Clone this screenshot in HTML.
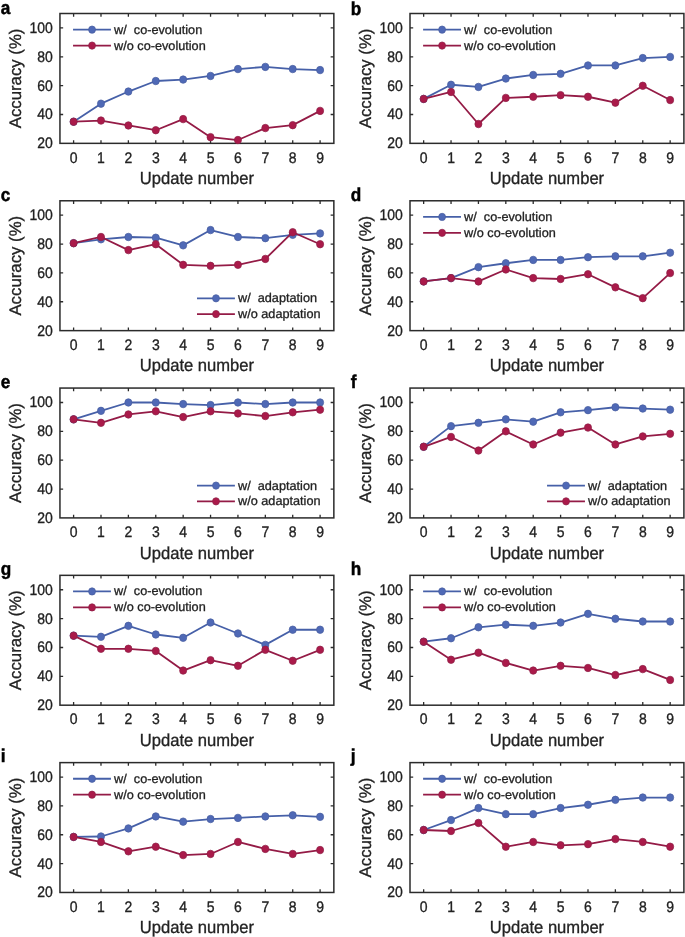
<!DOCTYPE html>
<html><head><meta charset="utf-8"><style>
html,body{margin:0;padding:0;background:#fff;}
body{width:685px;height:937px;overflow:hidden;}
svg{display:block;font-family:"Liberation Sans", sans-serif;text-rendering:geometricPrecision;will-change:transform;}
</style></head><body>
<svg width="685" height="937" viewBox="0 0 685 937">
<rect width="685" height="937" fill="#fff"/>
<path d="M73.60 143.35V140.15M73.60 13.50V16.70M100.99 143.35V140.15M100.99 13.50V16.70M128.38 143.35V140.15M128.38 13.50V16.70M155.77 143.35V140.15M155.77 13.50V16.70M183.16 143.35V140.15M183.16 13.50V16.70M210.55 143.35V140.15M210.55 13.50V16.70M237.94 143.35V140.15M237.94 13.50V16.70M265.33 143.35V140.15M265.33 13.50V16.70M292.72 143.35V140.15M292.72 13.50V16.70M320.11 143.35V140.15M320.11 13.50V16.70M59.95 114.49H63.15M333.85 114.49H330.65M59.95 85.64H63.15M333.85 85.64H330.65M59.95 56.78H63.15M333.85 56.78H330.65M59.95 27.93H63.15M333.85 27.93H330.65" stroke="#2b2b2b" stroke-width="1.3" fill="none"/>
<rect x="59.95" y="13.50" width="273.90" height="129.85" stroke="#2b2b2b" stroke-width="1.5" fill="none"/>
<text transform="translate(52.80 148.35) scale(1 1.09)" font-size="14" text-anchor="end" stroke="#222" stroke-width="0.3" fill="#222">20</text>
<text transform="translate(52.80 119.49) scale(1 1.09)" font-size="14" text-anchor="end" stroke="#222" stroke-width="0.3" fill="#222">40</text>
<text transform="translate(52.80 90.64) scale(1 1.09)" font-size="14" text-anchor="end" stroke="#222" stroke-width="0.3" fill="#222">60</text>
<text transform="translate(52.80 61.78) scale(1 1.09)" font-size="14" text-anchor="end" stroke="#222" stroke-width="0.3" fill="#222">80</text>
<text transform="translate(52.80 32.93) scale(1 1.09)" font-size="14" text-anchor="end" stroke="#222" stroke-width="0.3" fill="#222">100</text>
<text transform="translate(73.60 162.55) scale(1 1.09)" font-size="14" text-anchor="middle" stroke="#222" stroke-width="0.3" fill="#222">0</text>
<text transform="translate(100.99 162.55) scale(1 1.09)" font-size="14" text-anchor="middle" stroke="#222" stroke-width="0.3" fill="#222">1</text>
<text transform="translate(128.38 162.55) scale(1 1.09)" font-size="14" text-anchor="middle" stroke="#222" stroke-width="0.3" fill="#222">2</text>
<text transform="translate(155.77 162.55) scale(1 1.09)" font-size="14" text-anchor="middle" stroke="#222" stroke-width="0.3" fill="#222">3</text>
<text transform="translate(183.16 162.55) scale(1 1.09)" font-size="14" text-anchor="middle" stroke="#222" stroke-width="0.3" fill="#222">4</text>
<text transform="translate(210.55 162.55) scale(1 1.09)" font-size="14" text-anchor="middle" stroke="#222" stroke-width="0.3" fill="#222">5</text>
<text transform="translate(237.94 162.55) scale(1 1.09)" font-size="14" text-anchor="middle" stroke="#222" stroke-width="0.3" fill="#222">6</text>
<text transform="translate(265.33 162.55) scale(1 1.09)" font-size="14" text-anchor="middle" stroke="#222" stroke-width="0.3" fill="#222">7</text>
<text transform="translate(292.72 162.55) scale(1 1.09)" font-size="14" text-anchor="middle" stroke="#222" stroke-width="0.3" fill="#222">8</text>
<text transform="translate(320.11 162.55) scale(1 1.09)" font-size="14" text-anchor="middle" stroke="#222" stroke-width="0.3" fill="#222">9</text>
<text transform="translate(196.90 184.15) scale(1 1.05)" font-size="16.6" text-anchor="middle" stroke="#222" stroke-width="0.3" fill="#222">Update number</text>
<text transform="translate(20.95 78.42) rotate(-90)" font-size="16.8" text-anchor="middle" fill="#222" stroke="#222" stroke-width="0.3">Accuracy (%)</text>
<text transform="translate(0.75 14.30) scale(1 1.08)" font-size="17.2" font-weight="bold" stroke="#000" stroke-width="0.45" fill="#000">a</text>
<polyline points="73.60,121.71 100.99,103.67 128.38,91.55 155.77,81.02 183.16,79.58 210.55,75.97 237.94,69.05 265.33,66.88 292.72,69.05 320.11,70.06" stroke="#4660a8" stroke-width="1.8" fill="none" stroke-linejoin="round"/>
<ellipse cx="73.60" cy="121.71" rx="3.55" ry="3.75" fill="#4f69b6" stroke="#475d9f" stroke-width="0.7"/>
<ellipse cx="100.99" cy="103.67" rx="3.55" ry="3.75" fill="#4f69b6" stroke="#475d9f" stroke-width="0.7"/>
<ellipse cx="128.38" cy="91.55" rx="3.55" ry="3.75" fill="#4f69b6" stroke="#475d9f" stroke-width="0.7"/>
<ellipse cx="155.77" cy="81.02" rx="3.55" ry="3.75" fill="#4f69b6" stroke="#475d9f" stroke-width="0.7"/>
<ellipse cx="183.16" cy="79.58" rx="3.55" ry="3.75" fill="#4f69b6" stroke="#475d9f" stroke-width="0.7"/>
<ellipse cx="210.55" cy="75.97" rx="3.55" ry="3.75" fill="#4f69b6" stroke="#475d9f" stroke-width="0.7"/>
<ellipse cx="237.94" cy="69.05" rx="3.55" ry="3.75" fill="#4f69b6" stroke="#475d9f" stroke-width="0.7"/>
<ellipse cx="265.33" cy="66.88" rx="3.55" ry="3.75" fill="#4f69b6" stroke="#475d9f" stroke-width="0.7"/>
<ellipse cx="292.72" cy="69.05" rx="3.55" ry="3.75" fill="#4f69b6" stroke="#475d9f" stroke-width="0.7"/>
<ellipse cx="320.11" cy="70.06" rx="3.55" ry="3.75" fill="#4f69b6" stroke="#475d9f" stroke-width="0.7"/>
<polyline points="73.60,121.71 100.99,120.55 128.38,125.46 155.77,130.22 183.16,119.11 210.55,137.15 237.94,140.03 265.33,128.06 292.72,125.17 320.11,110.89" stroke="#941b46" stroke-width="1.8" fill="none" stroke-linejoin="round"/>
<ellipse cx="73.60" cy="121.71" rx="3.55" ry="3.75" fill="#aa1a4a" stroke="#8e2046" stroke-width="0.7"/>
<ellipse cx="100.99" cy="120.55" rx="3.55" ry="3.75" fill="#aa1a4a" stroke="#8e2046" stroke-width="0.7"/>
<ellipse cx="128.38" cy="125.46" rx="3.55" ry="3.75" fill="#aa1a4a" stroke="#8e2046" stroke-width="0.7"/>
<ellipse cx="155.77" cy="130.22" rx="3.55" ry="3.75" fill="#aa1a4a" stroke="#8e2046" stroke-width="0.7"/>
<ellipse cx="183.16" cy="119.11" rx="3.55" ry="3.75" fill="#aa1a4a" stroke="#8e2046" stroke-width="0.7"/>
<ellipse cx="210.55" cy="137.15" rx="3.55" ry="3.75" fill="#aa1a4a" stroke="#8e2046" stroke-width="0.7"/>
<ellipse cx="237.94" cy="140.03" rx="3.55" ry="3.75" fill="#aa1a4a" stroke="#8e2046" stroke-width="0.7"/>
<ellipse cx="265.33" cy="128.06" rx="3.55" ry="3.75" fill="#aa1a4a" stroke="#8e2046" stroke-width="0.7"/>
<ellipse cx="292.72" cy="125.17" rx="3.55" ry="3.75" fill="#aa1a4a" stroke="#8e2046" stroke-width="0.7"/>
<ellipse cx="320.11" cy="110.89" rx="3.55" ry="3.75" fill="#aa1a4a" stroke="#8e2046" stroke-width="0.7"/>
<path d="M73.05 29.63H110.95" stroke="#4660a8" stroke-width="1.8"/>
<ellipse cx="92.05" cy="29.63" rx="3.45" ry="3.65" fill="#4f69b6" stroke="#475d9f" stroke-width="0.7"/>
<text transform="translate(114.05 33.63) scale(1 1.0)" font-size="12.7" stroke="#222" stroke-width="0.3" fill="#222">w/&#160;&#160;co-evolution</text>
<path d="M73.05 45.58H110.95" stroke="#941b46" stroke-width="1.8"/>
<ellipse cx="92.05" cy="45.58" rx="3.45" ry="3.65" fill="#aa1a4a" stroke="#8e2046" stroke-width="0.7"/>
<text transform="translate(114.05 49.58) scale(1 1.0)" font-size="12.7" stroke="#222" stroke-width="0.3" fill="#222">w/o co-evolution</text>
<path d="M423.65 143.35V140.15M423.65 13.50V16.70M451.04 143.35V140.15M451.04 13.50V16.70M478.43 143.35V140.15M478.43 13.50V16.70M505.82 143.35V140.15M505.82 13.50V16.70M533.21 143.35V140.15M533.21 13.50V16.70M560.60 143.35V140.15M560.60 13.50V16.70M587.99 143.35V140.15M587.99 13.50V16.70M615.38 143.35V140.15M615.38 13.50V16.70M642.77 143.35V140.15M642.77 13.50V16.70M670.16 143.35V140.15M670.16 13.50V16.70M410.00 114.49H413.20M683.90 114.49H680.70M410.00 85.64H413.20M683.90 85.64H680.70M410.00 56.78H413.20M683.90 56.78H680.70M410.00 27.93H413.20M683.90 27.93H680.70" stroke="#2b2b2b" stroke-width="1.3" fill="none"/>
<rect x="410.00" y="13.50" width="273.90" height="129.85" stroke="#2b2b2b" stroke-width="1.5" fill="none"/>
<text transform="translate(402.85 148.35) scale(1 1.09)" font-size="14" text-anchor="end" stroke="#222" stroke-width="0.3" fill="#222">20</text>
<text transform="translate(402.85 119.49) scale(1 1.09)" font-size="14" text-anchor="end" stroke="#222" stroke-width="0.3" fill="#222">40</text>
<text transform="translate(402.85 90.64) scale(1 1.09)" font-size="14" text-anchor="end" stroke="#222" stroke-width="0.3" fill="#222">60</text>
<text transform="translate(402.85 61.78) scale(1 1.09)" font-size="14" text-anchor="end" stroke="#222" stroke-width="0.3" fill="#222">80</text>
<text transform="translate(402.85 32.93) scale(1 1.09)" font-size="14" text-anchor="end" stroke="#222" stroke-width="0.3" fill="#222">100</text>
<text transform="translate(423.65 162.55) scale(1 1.09)" font-size="14" text-anchor="middle" stroke="#222" stroke-width="0.3" fill="#222">0</text>
<text transform="translate(451.04 162.55) scale(1 1.09)" font-size="14" text-anchor="middle" stroke="#222" stroke-width="0.3" fill="#222">1</text>
<text transform="translate(478.43 162.55) scale(1 1.09)" font-size="14" text-anchor="middle" stroke="#222" stroke-width="0.3" fill="#222">2</text>
<text transform="translate(505.82 162.55) scale(1 1.09)" font-size="14" text-anchor="middle" stroke="#222" stroke-width="0.3" fill="#222">3</text>
<text transform="translate(533.21 162.55) scale(1 1.09)" font-size="14" text-anchor="middle" stroke="#222" stroke-width="0.3" fill="#222">4</text>
<text transform="translate(560.60 162.55) scale(1 1.09)" font-size="14" text-anchor="middle" stroke="#222" stroke-width="0.3" fill="#222">5</text>
<text transform="translate(587.99 162.55) scale(1 1.09)" font-size="14" text-anchor="middle" stroke="#222" stroke-width="0.3" fill="#222">6</text>
<text transform="translate(615.38 162.55) scale(1 1.09)" font-size="14" text-anchor="middle" stroke="#222" stroke-width="0.3" fill="#222">7</text>
<text transform="translate(642.77 162.55) scale(1 1.09)" font-size="14" text-anchor="middle" stroke="#222" stroke-width="0.3" fill="#222">8</text>
<text transform="translate(670.16 162.55) scale(1 1.09)" font-size="14" text-anchor="middle" stroke="#222" stroke-width="0.3" fill="#222">9</text>
<text transform="translate(546.95 184.15) scale(1 1.05)" font-size="16.6" text-anchor="middle" stroke="#222" stroke-width="0.3" fill="#222">Update number</text>
<text transform="translate(371.00 78.42) rotate(-90)" font-size="16.8" text-anchor="middle" fill="#222" stroke="#222" stroke-width="0.3">Accuracy (%)</text>
<text transform="translate(350.80 14.80) scale(1 1.08)" font-size="17.2" font-weight="bold" stroke="#000" stroke-width="0.45" fill="#000">b</text>
<polyline points="423.65,98.91 451.04,84.77 478.43,86.94 505.82,78.57 533.21,74.96 560.60,73.81 587.99,65.44 615.38,65.44 642.77,58.08 670.16,56.93" stroke="#4660a8" stroke-width="1.8" fill="none" stroke-linejoin="round"/>
<ellipse cx="423.65" cy="98.91" rx="3.55" ry="3.75" fill="#4f69b6" stroke="#475d9f" stroke-width="0.7"/>
<ellipse cx="451.04" cy="84.77" rx="3.55" ry="3.75" fill="#4f69b6" stroke="#475d9f" stroke-width="0.7"/>
<ellipse cx="478.43" cy="86.94" rx="3.55" ry="3.75" fill="#4f69b6" stroke="#475d9f" stroke-width="0.7"/>
<ellipse cx="505.82" cy="78.57" rx="3.55" ry="3.75" fill="#4f69b6" stroke="#475d9f" stroke-width="0.7"/>
<ellipse cx="533.21" cy="74.96" rx="3.55" ry="3.75" fill="#4f69b6" stroke="#475d9f" stroke-width="0.7"/>
<ellipse cx="560.60" cy="73.81" rx="3.55" ry="3.75" fill="#4f69b6" stroke="#475d9f" stroke-width="0.7"/>
<ellipse cx="587.99" cy="65.44" rx="3.55" ry="3.75" fill="#4f69b6" stroke="#475d9f" stroke-width="0.7"/>
<ellipse cx="615.38" cy="65.44" rx="3.55" ry="3.75" fill="#4f69b6" stroke="#475d9f" stroke-width="0.7"/>
<ellipse cx="642.77" cy="58.08" rx="3.55" ry="3.75" fill="#4f69b6" stroke="#475d9f" stroke-width="0.7"/>
<ellipse cx="670.16" cy="56.93" rx="3.55" ry="3.75" fill="#4f69b6" stroke="#475d9f" stroke-width="0.7"/>
<polyline points="423.65,98.91 451.04,91.99 478.43,124.02 505.82,97.90 533.21,96.75 560.60,95.16 587.99,96.75 615.38,102.66 642.77,85.78 670.16,100.07" stroke="#941b46" stroke-width="1.8" fill="none" stroke-linejoin="round"/>
<ellipse cx="423.65" cy="98.91" rx="3.55" ry="3.75" fill="#aa1a4a" stroke="#8e2046" stroke-width="0.7"/>
<ellipse cx="451.04" cy="91.99" rx="3.55" ry="3.75" fill="#aa1a4a" stroke="#8e2046" stroke-width="0.7"/>
<ellipse cx="478.43" cy="124.02" rx="3.55" ry="3.75" fill="#aa1a4a" stroke="#8e2046" stroke-width="0.7"/>
<ellipse cx="505.82" cy="97.90" rx="3.55" ry="3.75" fill="#aa1a4a" stroke="#8e2046" stroke-width="0.7"/>
<ellipse cx="533.21" cy="96.75" rx="3.55" ry="3.75" fill="#aa1a4a" stroke="#8e2046" stroke-width="0.7"/>
<ellipse cx="560.60" cy="95.16" rx="3.55" ry="3.75" fill="#aa1a4a" stroke="#8e2046" stroke-width="0.7"/>
<ellipse cx="587.99" cy="96.75" rx="3.55" ry="3.75" fill="#aa1a4a" stroke="#8e2046" stroke-width="0.7"/>
<ellipse cx="615.38" cy="102.66" rx="3.55" ry="3.75" fill="#aa1a4a" stroke="#8e2046" stroke-width="0.7"/>
<ellipse cx="642.77" cy="85.78" rx="3.55" ry="3.75" fill="#aa1a4a" stroke="#8e2046" stroke-width="0.7"/>
<ellipse cx="670.16" cy="100.07" rx="3.55" ry="3.75" fill="#aa1a4a" stroke="#8e2046" stroke-width="0.7"/>
<path d="M423.10 29.63H461.00" stroke="#4660a8" stroke-width="1.8"/>
<ellipse cx="442.10" cy="29.63" rx="3.45" ry="3.65" fill="#4f69b6" stroke="#475d9f" stroke-width="0.7"/>
<text transform="translate(464.10 33.63) scale(1 1.0)" font-size="12.7" stroke="#222" stroke-width="0.3" fill="#222">w/&#160;&#160;co-evolution</text>
<path d="M423.10 45.58H461.00" stroke="#941b46" stroke-width="1.8"/>
<ellipse cx="442.10" cy="45.58" rx="3.45" ry="3.65" fill="#aa1a4a" stroke="#8e2046" stroke-width="0.7"/>
<text transform="translate(464.10 49.58) scale(1 1.0)" font-size="12.7" stroke="#222" stroke-width="0.3" fill="#222">w/o co-evolution</text>
<path d="M73.60 330.63V327.43M73.60 200.78V203.98M100.99 330.63V327.43M100.99 200.78V203.98M128.38 330.63V327.43M128.38 200.78V203.98M155.77 330.63V327.43M155.77 200.78V203.98M183.16 330.63V327.43M183.16 200.78V203.98M210.55 330.63V327.43M210.55 200.78V203.98M237.94 330.63V327.43M237.94 200.78V203.98M265.33 330.63V327.43M265.33 200.78V203.98M292.72 330.63V327.43M292.72 200.78V203.98M320.11 330.63V327.43M320.11 200.78V203.98M59.95 301.77H63.15M333.85 301.77H330.65M59.95 272.92H63.15M333.85 272.92H330.65M59.95 244.06H63.15M333.85 244.06H330.65M59.95 215.21H63.15M333.85 215.21H330.65" stroke="#2b2b2b" stroke-width="1.3" fill="none"/>
<rect x="59.95" y="200.78" width="273.90" height="129.85" stroke="#2b2b2b" stroke-width="1.5" fill="none"/>
<text transform="translate(52.80 335.63) scale(1 1.09)" font-size="14" text-anchor="end" stroke="#222" stroke-width="0.3" fill="#222">20</text>
<text transform="translate(52.80 306.77) scale(1 1.09)" font-size="14" text-anchor="end" stroke="#222" stroke-width="0.3" fill="#222">40</text>
<text transform="translate(52.80 277.92) scale(1 1.09)" font-size="14" text-anchor="end" stroke="#222" stroke-width="0.3" fill="#222">60</text>
<text transform="translate(52.80 249.06) scale(1 1.09)" font-size="14" text-anchor="end" stroke="#222" stroke-width="0.3" fill="#222">80</text>
<text transform="translate(52.80 220.21) scale(1 1.09)" font-size="14" text-anchor="end" stroke="#222" stroke-width="0.3" fill="#222">100</text>
<text transform="translate(73.60 349.83) scale(1 1.09)" font-size="14" text-anchor="middle" stroke="#222" stroke-width="0.3" fill="#222">0</text>
<text transform="translate(100.99 349.83) scale(1 1.09)" font-size="14" text-anchor="middle" stroke="#222" stroke-width="0.3" fill="#222">1</text>
<text transform="translate(128.38 349.83) scale(1 1.09)" font-size="14" text-anchor="middle" stroke="#222" stroke-width="0.3" fill="#222">2</text>
<text transform="translate(155.77 349.83) scale(1 1.09)" font-size="14" text-anchor="middle" stroke="#222" stroke-width="0.3" fill="#222">3</text>
<text transform="translate(183.16 349.83) scale(1 1.09)" font-size="14" text-anchor="middle" stroke="#222" stroke-width="0.3" fill="#222">4</text>
<text transform="translate(210.55 349.83) scale(1 1.09)" font-size="14" text-anchor="middle" stroke="#222" stroke-width="0.3" fill="#222">5</text>
<text transform="translate(237.94 349.83) scale(1 1.09)" font-size="14" text-anchor="middle" stroke="#222" stroke-width="0.3" fill="#222">6</text>
<text transform="translate(265.33 349.83) scale(1 1.09)" font-size="14" text-anchor="middle" stroke="#222" stroke-width="0.3" fill="#222">7</text>
<text transform="translate(292.72 349.83) scale(1 1.09)" font-size="14" text-anchor="middle" stroke="#222" stroke-width="0.3" fill="#222">8</text>
<text transform="translate(320.11 349.83) scale(1 1.09)" font-size="14" text-anchor="middle" stroke="#222" stroke-width="0.3" fill="#222">9</text>
<text transform="translate(196.90 371.43) scale(1 1.05)" font-size="16.6" text-anchor="middle" stroke="#222" stroke-width="0.3" fill="#222">Update number</text>
<text transform="translate(20.95 265.70) rotate(-90)" font-size="16.8" text-anchor="middle" fill="#222" stroke="#222" stroke-width="0.3">Accuracy (%)</text>
<text transform="translate(0.75 201.33) scale(1 1.08)" font-size="17.2" font-weight="bold" stroke="#000" stroke-width="0.45" fill="#000">c</text>
<polyline points="73.60,243.20 100.99,239.30 128.38,236.99 155.77,237.72 183.16,245.36 210.55,230.07 237.94,236.99 265.33,238.15 292.72,234.83 320.11,233.39" stroke="#4660a8" stroke-width="1.8" fill="none" stroke-linejoin="round"/>
<ellipse cx="73.60" cy="243.20" rx="3.55" ry="3.75" fill="#4f69b6" stroke="#475d9f" stroke-width="0.7"/>
<ellipse cx="100.99" cy="239.30" rx="3.55" ry="3.75" fill="#4f69b6" stroke="#475d9f" stroke-width="0.7"/>
<ellipse cx="128.38" cy="236.99" rx="3.55" ry="3.75" fill="#4f69b6" stroke="#475d9f" stroke-width="0.7"/>
<ellipse cx="155.77" cy="237.72" rx="3.55" ry="3.75" fill="#4f69b6" stroke="#475d9f" stroke-width="0.7"/>
<ellipse cx="183.16" cy="245.36" rx="3.55" ry="3.75" fill="#4f69b6" stroke="#475d9f" stroke-width="0.7"/>
<ellipse cx="210.55" cy="230.07" rx="3.55" ry="3.75" fill="#4f69b6" stroke="#475d9f" stroke-width="0.7"/>
<ellipse cx="237.94" cy="236.99" rx="3.55" ry="3.75" fill="#4f69b6" stroke="#475d9f" stroke-width="0.7"/>
<ellipse cx="265.33" cy="238.15" rx="3.55" ry="3.75" fill="#4f69b6" stroke="#475d9f" stroke-width="0.7"/>
<ellipse cx="292.72" cy="234.83" rx="3.55" ry="3.75" fill="#4f69b6" stroke="#475d9f" stroke-width="0.7"/>
<ellipse cx="320.11" cy="233.39" rx="3.55" ry="3.75" fill="#4f69b6" stroke="#475d9f" stroke-width="0.7"/>
<polyline points="73.60,243.20 100.99,236.99 128.38,250.12 155.77,244.21 183.16,264.84 210.55,265.85 237.94,264.84 265.33,258.92 292.72,232.23 320.11,244.21" stroke="#941b46" stroke-width="1.8" fill="none" stroke-linejoin="round"/>
<ellipse cx="73.60" cy="243.20" rx="3.55" ry="3.75" fill="#aa1a4a" stroke="#8e2046" stroke-width="0.7"/>
<ellipse cx="100.99" cy="236.99" rx="3.55" ry="3.75" fill="#aa1a4a" stroke="#8e2046" stroke-width="0.7"/>
<ellipse cx="128.38" cy="250.12" rx="3.55" ry="3.75" fill="#aa1a4a" stroke="#8e2046" stroke-width="0.7"/>
<ellipse cx="155.77" cy="244.21" rx="3.55" ry="3.75" fill="#aa1a4a" stroke="#8e2046" stroke-width="0.7"/>
<ellipse cx="183.16" cy="264.84" rx="3.55" ry="3.75" fill="#aa1a4a" stroke="#8e2046" stroke-width="0.7"/>
<ellipse cx="210.55" cy="265.85" rx="3.55" ry="3.75" fill="#aa1a4a" stroke="#8e2046" stroke-width="0.7"/>
<ellipse cx="237.94" cy="264.84" rx="3.55" ry="3.75" fill="#aa1a4a" stroke="#8e2046" stroke-width="0.7"/>
<ellipse cx="265.33" cy="258.92" rx="3.55" ry="3.75" fill="#aa1a4a" stroke="#8e2046" stroke-width="0.7"/>
<ellipse cx="292.72" cy="232.23" rx="3.55" ry="3.75" fill="#aa1a4a" stroke="#8e2046" stroke-width="0.7"/>
<ellipse cx="320.11" cy="244.21" rx="3.55" ry="3.75" fill="#aa1a4a" stroke="#8e2046" stroke-width="0.7"/>
<path d="M197.00 298.31H234.90" stroke="#4660a8" stroke-width="1.8"/>
<ellipse cx="216.00" cy="298.31" rx="3.45" ry="3.65" fill="#4f69b6" stroke="#475d9f" stroke-width="0.7"/>
<text transform="translate(238.00 302.31) scale(1 1.0)" font-size="12.7" stroke="#222" stroke-width="0.3" fill="#222">w/&#160;&#160;adaptation</text>
<path d="M197.00 314.08H234.90" stroke="#941b46" stroke-width="1.8"/>
<ellipse cx="216.00" cy="314.08" rx="3.45" ry="3.65" fill="#aa1a4a" stroke="#8e2046" stroke-width="0.7"/>
<text transform="translate(238.00 318.08) scale(1 1.0)" font-size="12.7" stroke="#222" stroke-width="0.3" fill="#222">w/o adaptation</text>
<path d="M423.65 330.63V327.43M423.65 200.78V203.98M451.04 330.63V327.43M451.04 200.78V203.98M478.43 330.63V327.43M478.43 200.78V203.98M505.82 330.63V327.43M505.82 200.78V203.98M533.21 330.63V327.43M533.21 200.78V203.98M560.60 330.63V327.43M560.60 200.78V203.98M587.99 330.63V327.43M587.99 200.78V203.98M615.38 330.63V327.43M615.38 200.78V203.98M642.77 330.63V327.43M642.77 200.78V203.98M670.16 330.63V327.43M670.16 200.78V203.98M410.00 301.77H413.20M683.90 301.77H680.70M410.00 272.92H413.20M683.90 272.92H680.70M410.00 244.06H413.20M683.90 244.06H680.70M410.00 215.21H413.20M683.90 215.21H680.70" stroke="#2b2b2b" stroke-width="1.3" fill="none"/>
<rect x="410.00" y="200.78" width="273.90" height="129.85" stroke="#2b2b2b" stroke-width="1.5" fill="none"/>
<text transform="translate(402.85 335.63) scale(1 1.09)" font-size="14" text-anchor="end" stroke="#222" stroke-width="0.3" fill="#222">20</text>
<text transform="translate(402.85 306.77) scale(1 1.09)" font-size="14" text-anchor="end" stroke="#222" stroke-width="0.3" fill="#222">40</text>
<text transform="translate(402.85 277.92) scale(1 1.09)" font-size="14" text-anchor="end" stroke="#222" stroke-width="0.3" fill="#222">60</text>
<text transform="translate(402.85 249.06) scale(1 1.09)" font-size="14" text-anchor="end" stroke="#222" stroke-width="0.3" fill="#222">80</text>
<text transform="translate(402.85 220.21) scale(1 1.09)" font-size="14" text-anchor="end" stroke="#222" stroke-width="0.3" fill="#222">100</text>
<text transform="translate(423.65 349.83) scale(1 1.09)" font-size="14" text-anchor="middle" stroke="#222" stroke-width="0.3" fill="#222">0</text>
<text transform="translate(451.04 349.83) scale(1 1.09)" font-size="14" text-anchor="middle" stroke="#222" stroke-width="0.3" fill="#222">1</text>
<text transform="translate(478.43 349.83) scale(1 1.09)" font-size="14" text-anchor="middle" stroke="#222" stroke-width="0.3" fill="#222">2</text>
<text transform="translate(505.82 349.83) scale(1 1.09)" font-size="14" text-anchor="middle" stroke="#222" stroke-width="0.3" fill="#222">3</text>
<text transform="translate(533.21 349.83) scale(1 1.09)" font-size="14" text-anchor="middle" stroke="#222" stroke-width="0.3" fill="#222">4</text>
<text transform="translate(560.60 349.83) scale(1 1.09)" font-size="14" text-anchor="middle" stroke="#222" stroke-width="0.3" fill="#222">5</text>
<text transform="translate(587.99 349.83) scale(1 1.09)" font-size="14" text-anchor="middle" stroke="#222" stroke-width="0.3" fill="#222">6</text>
<text transform="translate(615.38 349.83) scale(1 1.09)" font-size="14" text-anchor="middle" stroke="#222" stroke-width="0.3" fill="#222">7</text>
<text transform="translate(642.77 349.83) scale(1 1.09)" font-size="14" text-anchor="middle" stroke="#222" stroke-width="0.3" fill="#222">8</text>
<text transform="translate(670.16 349.83) scale(1 1.09)" font-size="14" text-anchor="middle" stroke="#222" stroke-width="0.3" fill="#222">9</text>
<text transform="translate(546.95 371.43) scale(1 1.05)" font-size="16.6" text-anchor="middle" stroke="#222" stroke-width="0.3" fill="#222">Update number</text>
<text transform="translate(371.00 265.70) rotate(-90)" font-size="16.8" text-anchor="middle" fill="#222" stroke="#222" stroke-width="0.3">Accuracy (%)</text>
<text transform="translate(350.80 200.98) scale(1 1.08)" font-size="17.2" font-weight="bold" stroke="#000" stroke-width="0.45" fill="#000">d</text>
<polyline points="423.65,281.43 451.04,278.11 478.43,267.15 505.82,263.25 533.21,259.93 560.60,259.93 587.99,257.19 615.38,256.33 642.77,256.33 670.16,252.72" stroke="#4660a8" stroke-width="1.8" fill="none" stroke-linejoin="round"/>
<ellipse cx="423.65" cy="281.43" rx="3.55" ry="3.75" fill="#4f69b6" stroke="#475d9f" stroke-width="0.7"/>
<ellipse cx="451.04" cy="278.11" rx="3.55" ry="3.75" fill="#4f69b6" stroke="#475d9f" stroke-width="0.7"/>
<ellipse cx="478.43" cy="267.15" rx="3.55" ry="3.75" fill="#4f69b6" stroke="#475d9f" stroke-width="0.7"/>
<ellipse cx="505.82" cy="263.25" rx="3.55" ry="3.75" fill="#4f69b6" stroke="#475d9f" stroke-width="0.7"/>
<ellipse cx="533.21" cy="259.93" rx="3.55" ry="3.75" fill="#4f69b6" stroke="#475d9f" stroke-width="0.7"/>
<ellipse cx="560.60" cy="259.93" rx="3.55" ry="3.75" fill="#4f69b6" stroke="#475d9f" stroke-width="0.7"/>
<ellipse cx="587.99" cy="257.19" rx="3.55" ry="3.75" fill="#4f69b6" stroke="#475d9f" stroke-width="0.7"/>
<ellipse cx="615.38" cy="256.33" rx="3.55" ry="3.75" fill="#4f69b6" stroke="#475d9f" stroke-width="0.7"/>
<ellipse cx="642.77" cy="256.33" rx="3.55" ry="3.75" fill="#4f69b6" stroke="#475d9f" stroke-width="0.7"/>
<ellipse cx="670.16" cy="252.72" rx="3.55" ry="3.75" fill="#4f69b6" stroke="#475d9f" stroke-width="0.7"/>
<polyline points="423.65,281.43 451.04,278.11 478.43,281.43 505.82,269.46 533.21,278.11 560.60,278.98 587.99,274.22 615.38,287.35 642.77,298.17 670.16,273.06" stroke="#941b46" stroke-width="1.8" fill="none" stroke-linejoin="round"/>
<ellipse cx="423.65" cy="281.43" rx="3.55" ry="3.75" fill="#aa1a4a" stroke="#8e2046" stroke-width="0.7"/>
<ellipse cx="451.04" cy="278.11" rx="3.55" ry="3.75" fill="#aa1a4a" stroke="#8e2046" stroke-width="0.7"/>
<ellipse cx="478.43" cy="281.43" rx="3.55" ry="3.75" fill="#aa1a4a" stroke="#8e2046" stroke-width="0.7"/>
<ellipse cx="505.82" cy="269.46" rx="3.55" ry="3.75" fill="#aa1a4a" stroke="#8e2046" stroke-width="0.7"/>
<ellipse cx="533.21" cy="278.11" rx="3.55" ry="3.75" fill="#aa1a4a" stroke="#8e2046" stroke-width="0.7"/>
<ellipse cx="560.60" cy="278.98" rx="3.55" ry="3.75" fill="#aa1a4a" stroke="#8e2046" stroke-width="0.7"/>
<ellipse cx="587.99" cy="274.22" rx="3.55" ry="3.75" fill="#aa1a4a" stroke="#8e2046" stroke-width="0.7"/>
<ellipse cx="615.38" cy="287.35" rx="3.55" ry="3.75" fill="#aa1a4a" stroke="#8e2046" stroke-width="0.7"/>
<ellipse cx="642.77" cy="298.17" rx="3.55" ry="3.75" fill="#aa1a4a" stroke="#8e2046" stroke-width="0.7"/>
<ellipse cx="670.16" cy="273.06" rx="3.55" ry="3.75" fill="#aa1a4a" stroke="#8e2046" stroke-width="0.7"/>
<path d="M423.10 216.91H461.00" stroke="#4660a8" stroke-width="1.8"/>
<ellipse cx="442.10" cy="216.91" rx="3.45" ry="3.65" fill="#4f69b6" stroke="#475d9f" stroke-width="0.7"/>
<text transform="translate(464.10 220.91) scale(1 1.0)" font-size="12.7" stroke="#222" stroke-width="0.3" fill="#222">w/&#160;&#160;co-evolution</text>
<path d="M423.10 232.86H461.00" stroke="#941b46" stroke-width="1.8"/>
<ellipse cx="442.10" cy="232.86" rx="3.45" ry="3.65" fill="#aa1a4a" stroke="#8e2046" stroke-width="0.7"/>
<text transform="translate(464.10 236.86) scale(1 1.0)" font-size="12.7" stroke="#222" stroke-width="0.3" fill="#222">w/o co-evolution</text>
<path d="M73.60 517.91V514.71M73.60 388.06V391.26M100.99 517.91V514.71M100.99 388.06V391.26M128.38 517.91V514.71M128.38 388.06V391.26M155.77 517.91V514.71M155.77 388.06V391.26M183.16 517.91V514.71M183.16 388.06V391.26M210.55 517.91V514.71M210.55 388.06V391.26M237.94 517.91V514.71M237.94 388.06V391.26M265.33 517.91V514.71M265.33 388.06V391.26M292.72 517.91V514.71M292.72 388.06V391.26M320.11 517.91V514.71M320.11 388.06V391.26M59.95 489.05H63.15M333.85 489.05H330.65M59.95 460.20H63.15M333.85 460.20H330.65M59.95 431.34H63.15M333.85 431.34H330.65M59.95 402.49H63.15M333.85 402.49H330.65" stroke="#2b2b2b" stroke-width="1.3" fill="none"/>
<rect x="59.95" y="388.06" width="273.90" height="129.85" stroke="#2b2b2b" stroke-width="1.5" fill="none"/>
<text transform="translate(52.80 522.91) scale(1 1.09)" font-size="14" text-anchor="end" stroke="#222" stroke-width="0.3" fill="#222">20</text>
<text transform="translate(52.80 494.05) scale(1 1.09)" font-size="14" text-anchor="end" stroke="#222" stroke-width="0.3" fill="#222">40</text>
<text transform="translate(52.80 465.20) scale(1 1.09)" font-size="14" text-anchor="end" stroke="#222" stroke-width="0.3" fill="#222">60</text>
<text transform="translate(52.80 436.34) scale(1 1.09)" font-size="14" text-anchor="end" stroke="#222" stroke-width="0.3" fill="#222">80</text>
<text transform="translate(52.80 407.49) scale(1 1.09)" font-size="14" text-anchor="end" stroke="#222" stroke-width="0.3" fill="#222">100</text>
<text transform="translate(73.60 537.11) scale(1 1.09)" font-size="14" text-anchor="middle" stroke="#222" stroke-width="0.3" fill="#222">0</text>
<text transform="translate(100.99 537.11) scale(1 1.09)" font-size="14" text-anchor="middle" stroke="#222" stroke-width="0.3" fill="#222">1</text>
<text transform="translate(128.38 537.11) scale(1 1.09)" font-size="14" text-anchor="middle" stroke="#222" stroke-width="0.3" fill="#222">2</text>
<text transform="translate(155.77 537.11) scale(1 1.09)" font-size="14" text-anchor="middle" stroke="#222" stroke-width="0.3" fill="#222">3</text>
<text transform="translate(183.16 537.11) scale(1 1.09)" font-size="14" text-anchor="middle" stroke="#222" stroke-width="0.3" fill="#222">4</text>
<text transform="translate(210.55 537.11) scale(1 1.09)" font-size="14" text-anchor="middle" stroke="#222" stroke-width="0.3" fill="#222">5</text>
<text transform="translate(237.94 537.11) scale(1 1.09)" font-size="14" text-anchor="middle" stroke="#222" stroke-width="0.3" fill="#222">6</text>
<text transform="translate(265.33 537.11) scale(1 1.09)" font-size="14" text-anchor="middle" stroke="#222" stroke-width="0.3" fill="#222">7</text>
<text transform="translate(292.72 537.11) scale(1 1.09)" font-size="14" text-anchor="middle" stroke="#222" stroke-width="0.3" fill="#222">8</text>
<text transform="translate(320.11 537.11) scale(1 1.09)" font-size="14" text-anchor="middle" stroke="#222" stroke-width="0.3" fill="#222">9</text>
<text transform="translate(196.90 558.71) scale(1 1.05)" font-size="16.6" text-anchor="middle" stroke="#222" stroke-width="0.3" fill="#222">Update number</text>
<text transform="translate(20.95 452.99) rotate(-90)" font-size="16.8" text-anchor="middle" fill="#222" stroke="#222" stroke-width="0.3">Accuracy (%)</text>
<text transform="translate(0.75 388.11) scale(1 1.08)" font-size="17.2" font-weight="bold" stroke="#000" stroke-width="0.45" fill="#000">e</text>
<polyline points="73.60,419.37 100.99,410.86 128.38,402.49 155.77,402.49 183.16,404.07 210.55,405.08 237.94,402.49 265.33,404.07 292.72,402.49 320.11,402.49" stroke="#4660a8" stroke-width="1.8" fill="none" stroke-linejoin="round"/>
<ellipse cx="73.60" cy="419.37" rx="3.55" ry="3.75" fill="#4f69b6" stroke="#475d9f" stroke-width="0.7"/>
<ellipse cx="100.99" cy="410.86" rx="3.55" ry="3.75" fill="#4f69b6" stroke="#475d9f" stroke-width="0.7"/>
<ellipse cx="128.38" cy="402.49" rx="3.55" ry="3.75" fill="#4f69b6" stroke="#475d9f" stroke-width="0.7"/>
<ellipse cx="155.77" cy="402.49" rx="3.55" ry="3.75" fill="#4f69b6" stroke="#475d9f" stroke-width="0.7"/>
<ellipse cx="183.16" cy="404.07" rx="3.55" ry="3.75" fill="#4f69b6" stroke="#475d9f" stroke-width="0.7"/>
<ellipse cx="210.55" cy="405.08" rx="3.55" ry="3.75" fill="#4f69b6" stroke="#475d9f" stroke-width="0.7"/>
<ellipse cx="237.94" cy="402.49" rx="3.55" ry="3.75" fill="#4f69b6" stroke="#475d9f" stroke-width="0.7"/>
<ellipse cx="265.33" cy="404.07" rx="3.55" ry="3.75" fill="#4f69b6" stroke="#475d9f" stroke-width="0.7"/>
<ellipse cx="292.72" cy="402.49" rx="3.55" ry="3.75" fill="#4f69b6" stroke="#475d9f" stroke-width="0.7"/>
<ellipse cx="320.11" cy="402.49" rx="3.55" ry="3.75" fill="#4f69b6" stroke="#475d9f" stroke-width="0.7"/>
<polyline points="73.60,419.37 100.99,422.83 128.38,414.46 155.77,411.29 183.16,417.06 210.55,411.29 237.94,413.45 265.33,416.05 292.72,412.30 320.11,409.70" stroke="#941b46" stroke-width="1.8" fill="none" stroke-linejoin="round"/>
<ellipse cx="73.60" cy="419.37" rx="3.55" ry="3.75" fill="#aa1a4a" stroke="#8e2046" stroke-width="0.7"/>
<ellipse cx="100.99" cy="422.83" rx="3.55" ry="3.75" fill="#aa1a4a" stroke="#8e2046" stroke-width="0.7"/>
<ellipse cx="128.38" cy="414.46" rx="3.55" ry="3.75" fill="#aa1a4a" stroke="#8e2046" stroke-width="0.7"/>
<ellipse cx="155.77" cy="411.29" rx="3.55" ry="3.75" fill="#aa1a4a" stroke="#8e2046" stroke-width="0.7"/>
<ellipse cx="183.16" cy="417.06" rx="3.55" ry="3.75" fill="#aa1a4a" stroke="#8e2046" stroke-width="0.7"/>
<ellipse cx="210.55" cy="411.29" rx="3.55" ry="3.75" fill="#aa1a4a" stroke="#8e2046" stroke-width="0.7"/>
<ellipse cx="237.94" cy="413.45" rx="3.55" ry="3.75" fill="#aa1a4a" stroke="#8e2046" stroke-width="0.7"/>
<ellipse cx="265.33" cy="416.05" rx="3.55" ry="3.75" fill="#aa1a4a" stroke="#8e2046" stroke-width="0.7"/>
<ellipse cx="292.72" cy="412.30" rx="3.55" ry="3.75" fill="#aa1a4a" stroke="#8e2046" stroke-width="0.7"/>
<ellipse cx="320.11" cy="409.70" rx="3.55" ry="3.75" fill="#aa1a4a" stroke="#8e2046" stroke-width="0.7"/>
<path d="M197.00 485.59H234.90" stroke="#4660a8" stroke-width="1.8"/>
<ellipse cx="216.00" cy="485.59" rx="3.45" ry="3.65" fill="#4f69b6" stroke="#475d9f" stroke-width="0.7"/>
<text transform="translate(238.00 489.59) scale(1 1.0)" font-size="12.7" stroke="#222" stroke-width="0.3" fill="#222">w/&#160;&#160;adaptation</text>
<path d="M197.00 501.36H234.90" stroke="#941b46" stroke-width="1.8"/>
<ellipse cx="216.00" cy="501.36" rx="3.45" ry="3.65" fill="#aa1a4a" stroke="#8e2046" stroke-width="0.7"/>
<text transform="translate(238.00 505.36) scale(1 1.0)" font-size="12.7" stroke="#222" stroke-width="0.3" fill="#222">w/o adaptation</text>
<path d="M423.65 517.91V514.71M423.65 388.06V391.26M451.04 517.91V514.71M451.04 388.06V391.26M478.43 517.91V514.71M478.43 388.06V391.26M505.82 517.91V514.71M505.82 388.06V391.26M533.21 517.91V514.71M533.21 388.06V391.26M560.60 517.91V514.71M560.60 388.06V391.26M587.99 517.91V514.71M587.99 388.06V391.26M615.38 517.91V514.71M615.38 388.06V391.26M642.77 517.91V514.71M642.77 388.06V391.26M670.16 517.91V514.71M670.16 388.06V391.26M410.00 489.05H413.20M683.90 489.05H680.70M410.00 460.20H413.20M683.90 460.20H680.70M410.00 431.34H413.20M683.90 431.34H680.70M410.00 402.49H413.20M683.90 402.49H680.70" stroke="#2b2b2b" stroke-width="1.3" fill="none"/>
<rect x="410.00" y="388.06" width="273.90" height="129.85" stroke="#2b2b2b" stroke-width="1.5" fill="none"/>
<text transform="translate(402.85 522.91) scale(1 1.09)" font-size="14" text-anchor="end" stroke="#222" stroke-width="0.3" fill="#222">20</text>
<text transform="translate(402.85 494.05) scale(1 1.09)" font-size="14" text-anchor="end" stroke="#222" stroke-width="0.3" fill="#222">40</text>
<text transform="translate(402.85 465.20) scale(1 1.09)" font-size="14" text-anchor="end" stroke="#222" stroke-width="0.3" fill="#222">60</text>
<text transform="translate(402.85 436.34) scale(1 1.09)" font-size="14" text-anchor="end" stroke="#222" stroke-width="0.3" fill="#222">80</text>
<text transform="translate(402.85 407.49) scale(1 1.09)" font-size="14" text-anchor="end" stroke="#222" stroke-width="0.3" fill="#222">100</text>
<text transform="translate(423.65 537.11) scale(1 1.09)" font-size="14" text-anchor="middle" stroke="#222" stroke-width="0.3" fill="#222">0</text>
<text transform="translate(451.04 537.11) scale(1 1.09)" font-size="14" text-anchor="middle" stroke="#222" stroke-width="0.3" fill="#222">1</text>
<text transform="translate(478.43 537.11) scale(1 1.09)" font-size="14" text-anchor="middle" stroke="#222" stroke-width="0.3" fill="#222">2</text>
<text transform="translate(505.82 537.11) scale(1 1.09)" font-size="14" text-anchor="middle" stroke="#222" stroke-width="0.3" fill="#222">3</text>
<text transform="translate(533.21 537.11) scale(1 1.09)" font-size="14" text-anchor="middle" stroke="#222" stroke-width="0.3" fill="#222">4</text>
<text transform="translate(560.60 537.11) scale(1 1.09)" font-size="14" text-anchor="middle" stroke="#222" stroke-width="0.3" fill="#222">5</text>
<text transform="translate(587.99 537.11) scale(1 1.09)" font-size="14" text-anchor="middle" stroke="#222" stroke-width="0.3" fill="#222">6</text>
<text transform="translate(615.38 537.11) scale(1 1.09)" font-size="14" text-anchor="middle" stroke="#222" stroke-width="0.3" fill="#222">7</text>
<text transform="translate(642.77 537.11) scale(1 1.09)" font-size="14" text-anchor="middle" stroke="#222" stroke-width="0.3" fill="#222">8</text>
<text transform="translate(670.16 537.11) scale(1 1.09)" font-size="14" text-anchor="middle" stroke="#222" stroke-width="0.3" fill="#222">9</text>
<text transform="translate(546.95 558.71) scale(1 1.05)" font-size="16.6" text-anchor="middle" stroke="#222" stroke-width="0.3" fill="#222">Update number</text>
<text transform="translate(371.00 452.99) rotate(-90)" font-size="16.8" text-anchor="middle" fill="#222" stroke="#222" stroke-width="0.3">Accuracy (%)</text>
<text transform="translate(350.80 387.76) scale(1 1.08)" font-size="17.2" font-weight="bold" stroke="#000" stroke-width="0.45" fill="#000">f</text>
<polyline points="423.65,446.78 451.04,426.15 478.43,422.83 505.82,419.37 533.21,421.68 560.60,412.30 587.99,410.13 615.38,407.25 642.77,408.55 670.16,409.70" stroke="#4660a8" stroke-width="1.8" fill="none" stroke-linejoin="round"/>
<ellipse cx="423.65" cy="446.78" rx="3.55" ry="3.75" fill="#4f69b6" stroke="#475d9f" stroke-width="0.7"/>
<ellipse cx="451.04" cy="426.15" rx="3.55" ry="3.75" fill="#4f69b6" stroke="#475d9f" stroke-width="0.7"/>
<ellipse cx="478.43" cy="422.83" rx="3.55" ry="3.75" fill="#4f69b6" stroke="#475d9f" stroke-width="0.7"/>
<ellipse cx="505.82" cy="419.37" rx="3.55" ry="3.75" fill="#4f69b6" stroke="#475d9f" stroke-width="0.7"/>
<ellipse cx="533.21" cy="421.68" rx="3.55" ry="3.75" fill="#4f69b6" stroke="#475d9f" stroke-width="0.7"/>
<ellipse cx="560.60" cy="412.30" rx="3.55" ry="3.75" fill="#4f69b6" stroke="#475d9f" stroke-width="0.7"/>
<ellipse cx="587.99" cy="410.13" rx="3.55" ry="3.75" fill="#4f69b6" stroke="#475d9f" stroke-width="0.7"/>
<ellipse cx="615.38" cy="407.25" rx="3.55" ry="3.75" fill="#4f69b6" stroke="#475d9f" stroke-width="0.7"/>
<ellipse cx="642.77" cy="408.55" rx="3.55" ry="3.75" fill="#4f69b6" stroke="#475d9f" stroke-width="0.7"/>
<ellipse cx="670.16" cy="409.70" rx="3.55" ry="3.75" fill="#4f69b6" stroke="#475d9f" stroke-width="0.7"/>
<polyline points="423.65,446.78 451.04,436.97 478.43,450.53 505.82,431.34 533.21,444.47 560.60,432.64 587.99,427.59 615.38,444.47 642.77,436.39 670.16,433.80" stroke="#941b46" stroke-width="1.8" fill="none" stroke-linejoin="round"/>
<ellipse cx="423.65" cy="446.78" rx="3.55" ry="3.75" fill="#aa1a4a" stroke="#8e2046" stroke-width="0.7"/>
<ellipse cx="451.04" cy="436.97" rx="3.55" ry="3.75" fill="#aa1a4a" stroke="#8e2046" stroke-width="0.7"/>
<ellipse cx="478.43" cy="450.53" rx="3.55" ry="3.75" fill="#aa1a4a" stroke="#8e2046" stroke-width="0.7"/>
<ellipse cx="505.82" cy="431.34" rx="3.55" ry="3.75" fill="#aa1a4a" stroke="#8e2046" stroke-width="0.7"/>
<ellipse cx="533.21" cy="444.47" rx="3.55" ry="3.75" fill="#aa1a4a" stroke="#8e2046" stroke-width="0.7"/>
<ellipse cx="560.60" cy="432.64" rx="3.55" ry="3.75" fill="#aa1a4a" stroke="#8e2046" stroke-width="0.7"/>
<ellipse cx="587.99" cy="427.59" rx="3.55" ry="3.75" fill="#aa1a4a" stroke="#8e2046" stroke-width="0.7"/>
<ellipse cx="615.38" cy="444.47" rx="3.55" ry="3.75" fill="#aa1a4a" stroke="#8e2046" stroke-width="0.7"/>
<ellipse cx="642.77" cy="436.39" rx="3.55" ry="3.75" fill="#aa1a4a" stroke="#8e2046" stroke-width="0.7"/>
<ellipse cx="670.16" cy="433.80" rx="3.55" ry="3.75" fill="#aa1a4a" stroke="#8e2046" stroke-width="0.7"/>
<path d="M547.05 485.59H584.95" stroke="#4660a8" stroke-width="1.8"/>
<ellipse cx="566.05" cy="485.59" rx="3.45" ry="3.65" fill="#4f69b6" stroke="#475d9f" stroke-width="0.7"/>
<text transform="translate(588.05 489.59) scale(1 1.0)" font-size="12.7" stroke="#222" stroke-width="0.3" fill="#222">w/&#160;&#160;adaptation</text>
<path d="M547.05 501.36H584.95" stroke="#941b46" stroke-width="1.8"/>
<ellipse cx="566.05" cy="501.36" rx="3.45" ry="3.65" fill="#aa1a4a" stroke="#8e2046" stroke-width="0.7"/>
<text transform="translate(588.05 505.36) scale(1 1.0)" font-size="12.7" stroke="#222" stroke-width="0.3" fill="#222">w/o adaptation</text>
<path d="M73.60 705.19V701.99M73.60 575.34V578.54M100.99 705.19V701.99M100.99 575.34V578.54M128.38 705.19V701.99M128.38 575.34V578.54M155.77 705.19V701.99M155.77 575.34V578.54M183.16 705.19V701.99M183.16 575.34V578.54M210.55 705.19V701.99M210.55 575.34V578.54M237.94 705.19V701.99M237.94 575.34V578.54M265.33 705.19V701.99M265.33 575.34V578.54M292.72 705.19V701.99M292.72 575.34V578.54M320.11 705.19V701.99M320.11 575.34V578.54M59.95 676.33H63.15M333.85 676.33H330.65M59.95 647.48H63.15M333.85 647.48H330.65M59.95 618.62H63.15M333.85 618.62H330.65M59.95 589.77H63.15M333.85 589.77H330.65" stroke="#2b2b2b" stroke-width="1.3" fill="none"/>
<rect x="59.95" y="575.34" width="273.90" height="129.85" stroke="#2b2b2b" stroke-width="1.5" fill="none"/>
<text transform="translate(52.80 710.19) scale(1 1.09)" font-size="14" text-anchor="end" stroke="#222" stroke-width="0.3" fill="#222">20</text>
<text transform="translate(52.80 681.33) scale(1 1.09)" font-size="14" text-anchor="end" stroke="#222" stroke-width="0.3" fill="#222">40</text>
<text transform="translate(52.80 652.48) scale(1 1.09)" font-size="14" text-anchor="end" stroke="#222" stroke-width="0.3" fill="#222">60</text>
<text transform="translate(52.80 623.62) scale(1 1.09)" font-size="14" text-anchor="end" stroke="#222" stroke-width="0.3" fill="#222">80</text>
<text transform="translate(52.80 594.77) scale(1 1.09)" font-size="14" text-anchor="end" stroke="#222" stroke-width="0.3" fill="#222">100</text>
<text transform="translate(73.60 724.39) scale(1 1.09)" font-size="14" text-anchor="middle" stroke="#222" stroke-width="0.3" fill="#222">0</text>
<text transform="translate(100.99 724.39) scale(1 1.09)" font-size="14" text-anchor="middle" stroke="#222" stroke-width="0.3" fill="#222">1</text>
<text transform="translate(128.38 724.39) scale(1 1.09)" font-size="14" text-anchor="middle" stroke="#222" stroke-width="0.3" fill="#222">2</text>
<text transform="translate(155.77 724.39) scale(1 1.09)" font-size="14" text-anchor="middle" stroke="#222" stroke-width="0.3" fill="#222">3</text>
<text transform="translate(183.16 724.39) scale(1 1.09)" font-size="14" text-anchor="middle" stroke="#222" stroke-width="0.3" fill="#222">4</text>
<text transform="translate(210.55 724.39) scale(1 1.09)" font-size="14" text-anchor="middle" stroke="#222" stroke-width="0.3" fill="#222">5</text>
<text transform="translate(237.94 724.39) scale(1 1.09)" font-size="14" text-anchor="middle" stroke="#222" stroke-width="0.3" fill="#222">6</text>
<text transform="translate(265.33 724.39) scale(1 1.09)" font-size="14" text-anchor="middle" stroke="#222" stroke-width="0.3" fill="#222">7</text>
<text transform="translate(292.72 724.39) scale(1 1.09)" font-size="14" text-anchor="middle" stroke="#222" stroke-width="0.3" fill="#222">8</text>
<text transform="translate(320.11 724.39) scale(1 1.09)" font-size="14" text-anchor="middle" stroke="#222" stroke-width="0.3" fill="#222">9</text>
<text transform="translate(196.90 745.99) scale(1 1.05)" font-size="16.6" text-anchor="middle" stroke="#222" stroke-width="0.3" fill="#222">Update number</text>
<text transform="translate(20.95 640.27) rotate(-90)" font-size="16.8" text-anchor="middle" fill="#222" stroke="#222" stroke-width="0.3">Accuracy (%)</text>
<text transform="translate(0.75 575.04) scale(1 1.08)" font-size="17.2" font-weight="bold" stroke="#000" stroke-width="0.45" fill="#000">g</text>
<polyline points="73.60,635.65 100.99,636.80 128.38,625.84 155.77,634.49 183.16,637.81 210.55,622.52 237.94,633.48 265.33,644.88 292.72,629.73 320.11,629.73" stroke="#4660a8" stroke-width="1.8" fill="none" stroke-linejoin="round"/>
<ellipse cx="73.60" cy="635.65" rx="3.55" ry="3.75" fill="#4f69b6" stroke="#475d9f" stroke-width="0.7"/>
<ellipse cx="100.99" cy="636.80" rx="3.55" ry="3.75" fill="#4f69b6" stroke="#475d9f" stroke-width="0.7"/>
<ellipse cx="128.38" cy="625.84" rx="3.55" ry="3.75" fill="#4f69b6" stroke="#475d9f" stroke-width="0.7"/>
<ellipse cx="155.77" cy="634.49" rx="3.55" ry="3.75" fill="#4f69b6" stroke="#475d9f" stroke-width="0.7"/>
<ellipse cx="183.16" cy="637.81" rx="3.55" ry="3.75" fill="#4f69b6" stroke="#475d9f" stroke-width="0.7"/>
<ellipse cx="210.55" cy="622.52" rx="3.55" ry="3.75" fill="#4f69b6" stroke="#475d9f" stroke-width="0.7"/>
<ellipse cx="237.94" cy="633.48" rx="3.55" ry="3.75" fill="#4f69b6" stroke="#475d9f" stroke-width="0.7"/>
<ellipse cx="265.33" cy="644.88" rx="3.55" ry="3.75" fill="#4f69b6" stroke="#475d9f" stroke-width="0.7"/>
<ellipse cx="292.72" cy="629.73" rx="3.55" ry="3.75" fill="#4f69b6" stroke="#475d9f" stroke-width="0.7"/>
<ellipse cx="320.11" cy="629.73" rx="3.55" ry="3.75" fill="#4f69b6" stroke="#475d9f" stroke-width="0.7"/>
<polyline points="73.60,635.65 100.99,648.78 128.38,648.78 155.77,650.94 183.16,670.56 210.55,660.18 237.94,665.80 265.33,649.79 292.72,660.75 320.11,649.79" stroke="#941b46" stroke-width="1.8" fill="none" stroke-linejoin="round"/>
<ellipse cx="73.60" cy="635.65" rx="3.55" ry="3.75" fill="#aa1a4a" stroke="#8e2046" stroke-width="0.7"/>
<ellipse cx="100.99" cy="648.78" rx="3.55" ry="3.75" fill="#aa1a4a" stroke="#8e2046" stroke-width="0.7"/>
<ellipse cx="128.38" cy="648.78" rx="3.55" ry="3.75" fill="#aa1a4a" stroke="#8e2046" stroke-width="0.7"/>
<ellipse cx="155.77" cy="650.94" rx="3.55" ry="3.75" fill="#aa1a4a" stroke="#8e2046" stroke-width="0.7"/>
<ellipse cx="183.16" cy="670.56" rx="3.55" ry="3.75" fill="#aa1a4a" stroke="#8e2046" stroke-width="0.7"/>
<ellipse cx="210.55" cy="660.18" rx="3.55" ry="3.75" fill="#aa1a4a" stroke="#8e2046" stroke-width="0.7"/>
<ellipse cx="237.94" cy="665.80" rx="3.55" ry="3.75" fill="#aa1a4a" stroke="#8e2046" stroke-width="0.7"/>
<ellipse cx="265.33" cy="649.79" rx="3.55" ry="3.75" fill="#aa1a4a" stroke="#8e2046" stroke-width="0.7"/>
<ellipse cx="292.72" cy="660.75" rx="3.55" ry="3.75" fill="#aa1a4a" stroke="#8e2046" stroke-width="0.7"/>
<ellipse cx="320.11" cy="649.79" rx="3.55" ry="3.75" fill="#aa1a4a" stroke="#8e2046" stroke-width="0.7"/>
<path d="M73.05 591.47H110.95" stroke="#4660a8" stroke-width="1.8"/>
<ellipse cx="92.05" cy="591.47" rx="3.45" ry="3.65" fill="#4f69b6" stroke="#475d9f" stroke-width="0.7"/>
<text transform="translate(114.05 595.47) scale(1 1.0)" font-size="12.7" stroke="#222" stroke-width="0.3" fill="#222">w/&#160;&#160;co-evolution</text>
<path d="M73.05 607.42H110.95" stroke="#941b46" stroke-width="1.8"/>
<ellipse cx="92.05" cy="607.42" rx="3.45" ry="3.65" fill="#aa1a4a" stroke="#8e2046" stroke-width="0.7"/>
<text transform="translate(114.05 611.42) scale(1 1.0)" font-size="12.7" stroke="#222" stroke-width="0.3" fill="#222">w/o co-evolution</text>
<path d="M423.65 705.19V701.99M423.65 575.34V578.54M451.04 705.19V701.99M451.04 575.34V578.54M478.43 705.19V701.99M478.43 575.34V578.54M505.82 705.19V701.99M505.82 575.34V578.54M533.21 705.19V701.99M533.21 575.34V578.54M560.60 705.19V701.99M560.60 575.34V578.54M587.99 705.19V701.99M587.99 575.34V578.54M615.38 705.19V701.99M615.38 575.34V578.54M642.77 705.19V701.99M642.77 575.34V578.54M670.16 705.19V701.99M670.16 575.34V578.54M410.00 676.33H413.20M683.90 676.33H680.70M410.00 647.48H413.20M683.90 647.48H680.70M410.00 618.62H413.20M683.90 618.62H680.70M410.00 589.77H413.20M683.90 589.77H680.70" stroke="#2b2b2b" stroke-width="1.3" fill="none"/>
<rect x="410.00" y="575.34" width="273.90" height="129.85" stroke="#2b2b2b" stroke-width="1.5" fill="none"/>
<text transform="translate(402.85 710.19) scale(1 1.09)" font-size="14" text-anchor="end" stroke="#222" stroke-width="0.3" fill="#222">20</text>
<text transform="translate(402.85 681.33) scale(1 1.09)" font-size="14" text-anchor="end" stroke="#222" stroke-width="0.3" fill="#222">40</text>
<text transform="translate(402.85 652.48) scale(1 1.09)" font-size="14" text-anchor="end" stroke="#222" stroke-width="0.3" fill="#222">60</text>
<text transform="translate(402.85 623.62) scale(1 1.09)" font-size="14" text-anchor="end" stroke="#222" stroke-width="0.3" fill="#222">80</text>
<text transform="translate(402.85 594.77) scale(1 1.09)" font-size="14" text-anchor="end" stroke="#222" stroke-width="0.3" fill="#222">100</text>
<text transform="translate(423.65 724.39) scale(1 1.09)" font-size="14" text-anchor="middle" stroke="#222" stroke-width="0.3" fill="#222">0</text>
<text transform="translate(451.04 724.39) scale(1 1.09)" font-size="14" text-anchor="middle" stroke="#222" stroke-width="0.3" fill="#222">1</text>
<text transform="translate(478.43 724.39) scale(1 1.09)" font-size="14" text-anchor="middle" stroke="#222" stroke-width="0.3" fill="#222">2</text>
<text transform="translate(505.82 724.39) scale(1 1.09)" font-size="14" text-anchor="middle" stroke="#222" stroke-width="0.3" fill="#222">3</text>
<text transform="translate(533.21 724.39) scale(1 1.09)" font-size="14" text-anchor="middle" stroke="#222" stroke-width="0.3" fill="#222">4</text>
<text transform="translate(560.60 724.39) scale(1 1.09)" font-size="14" text-anchor="middle" stroke="#222" stroke-width="0.3" fill="#222">5</text>
<text transform="translate(587.99 724.39) scale(1 1.09)" font-size="14" text-anchor="middle" stroke="#222" stroke-width="0.3" fill="#222">6</text>
<text transform="translate(615.38 724.39) scale(1 1.09)" font-size="14" text-anchor="middle" stroke="#222" stroke-width="0.3" fill="#222">7</text>
<text transform="translate(642.77 724.39) scale(1 1.09)" font-size="14" text-anchor="middle" stroke="#222" stroke-width="0.3" fill="#222">8</text>
<text transform="translate(670.16 724.39) scale(1 1.09)" font-size="14" text-anchor="middle" stroke="#222" stroke-width="0.3" fill="#222">9</text>
<text transform="translate(546.95 745.99) scale(1 1.05)" font-size="16.6" text-anchor="middle" stroke="#222" stroke-width="0.3" fill="#222">Update number</text>
<text transform="translate(371.00 640.27) rotate(-90)" font-size="16.8" text-anchor="middle" fill="#222" stroke="#222" stroke-width="0.3">Accuracy (%)</text>
<text transform="translate(350.80 574.74) scale(1 1.08)" font-size="17.2" font-weight="bold" stroke="#000" stroke-width="0.45" fill="#000">h</text>
<polyline points="423.65,641.71 451.04,638.25 478.43,627.28 505.82,624.68 533.21,625.84 560.60,622.52 587.99,613.86 615.38,618.77 642.77,621.51 670.16,621.51" stroke="#4660a8" stroke-width="1.8" fill="none" stroke-linejoin="round"/>
<ellipse cx="423.65" cy="641.71" rx="3.55" ry="3.75" fill="#4f69b6" stroke="#475d9f" stroke-width="0.7"/>
<ellipse cx="451.04" cy="638.25" rx="3.55" ry="3.75" fill="#4f69b6" stroke="#475d9f" stroke-width="0.7"/>
<ellipse cx="478.43" cy="627.28" rx="3.55" ry="3.75" fill="#4f69b6" stroke="#475d9f" stroke-width="0.7"/>
<ellipse cx="505.82" cy="624.68" rx="3.55" ry="3.75" fill="#4f69b6" stroke="#475d9f" stroke-width="0.7"/>
<ellipse cx="533.21" cy="625.84" rx="3.55" ry="3.75" fill="#4f69b6" stroke="#475d9f" stroke-width="0.7"/>
<ellipse cx="560.60" cy="622.52" rx="3.55" ry="3.75" fill="#4f69b6" stroke="#475d9f" stroke-width="0.7"/>
<ellipse cx="587.99" cy="613.86" rx="3.55" ry="3.75" fill="#4f69b6" stroke="#475d9f" stroke-width="0.7"/>
<ellipse cx="615.38" cy="618.77" rx="3.55" ry="3.75" fill="#4f69b6" stroke="#475d9f" stroke-width="0.7"/>
<ellipse cx="642.77" cy="621.51" rx="3.55" ry="3.75" fill="#4f69b6" stroke="#475d9f" stroke-width="0.7"/>
<ellipse cx="670.16" cy="621.51" rx="3.55" ry="3.75" fill="#4f69b6" stroke="#475d9f" stroke-width="0.7"/>
<polyline points="423.65,641.71 451.04,659.74 478.43,652.67 505.82,662.92 533.21,670.56 560.60,665.80 587.99,667.97 615.38,675.04 642.77,669.12 670.16,679.94" stroke="#941b46" stroke-width="1.8" fill="none" stroke-linejoin="round"/>
<ellipse cx="423.65" cy="641.71" rx="3.55" ry="3.75" fill="#aa1a4a" stroke="#8e2046" stroke-width="0.7"/>
<ellipse cx="451.04" cy="659.74" rx="3.55" ry="3.75" fill="#aa1a4a" stroke="#8e2046" stroke-width="0.7"/>
<ellipse cx="478.43" cy="652.67" rx="3.55" ry="3.75" fill="#aa1a4a" stroke="#8e2046" stroke-width="0.7"/>
<ellipse cx="505.82" cy="662.92" rx="3.55" ry="3.75" fill="#aa1a4a" stroke="#8e2046" stroke-width="0.7"/>
<ellipse cx="533.21" cy="670.56" rx="3.55" ry="3.75" fill="#aa1a4a" stroke="#8e2046" stroke-width="0.7"/>
<ellipse cx="560.60" cy="665.80" rx="3.55" ry="3.75" fill="#aa1a4a" stroke="#8e2046" stroke-width="0.7"/>
<ellipse cx="587.99" cy="667.97" rx="3.55" ry="3.75" fill="#aa1a4a" stroke="#8e2046" stroke-width="0.7"/>
<ellipse cx="615.38" cy="675.04" rx="3.55" ry="3.75" fill="#aa1a4a" stroke="#8e2046" stroke-width="0.7"/>
<ellipse cx="642.77" cy="669.12" rx="3.55" ry="3.75" fill="#aa1a4a" stroke="#8e2046" stroke-width="0.7"/>
<ellipse cx="670.16" cy="679.94" rx="3.55" ry="3.75" fill="#aa1a4a" stroke="#8e2046" stroke-width="0.7"/>
<path d="M423.10 591.47H461.00" stroke="#4660a8" stroke-width="1.8"/>
<ellipse cx="442.10" cy="591.47" rx="3.45" ry="3.65" fill="#4f69b6" stroke="#475d9f" stroke-width="0.7"/>
<text transform="translate(464.10 595.47) scale(1 1.0)" font-size="12.7" stroke="#222" stroke-width="0.3" fill="#222">w/&#160;&#160;co-evolution</text>
<path d="M423.10 607.42H461.00" stroke="#941b46" stroke-width="1.8"/>
<ellipse cx="442.10" cy="607.42" rx="3.45" ry="3.65" fill="#aa1a4a" stroke="#8e2046" stroke-width="0.7"/>
<text transform="translate(464.10 611.42) scale(1 1.0)" font-size="12.7" stroke="#222" stroke-width="0.3" fill="#222">w/o co-evolution</text>
<path d="M73.60 892.47V889.27M73.60 762.62V765.82M100.99 892.47V889.27M100.99 762.62V765.82M128.38 892.47V889.27M128.38 762.62V765.82M155.77 892.47V889.27M155.77 762.62V765.82M183.16 892.47V889.27M183.16 762.62V765.82M210.55 892.47V889.27M210.55 762.62V765.82M237.94 892.47V889.27M237.94 762.62V765.82M265.33 892.47V889.27M265.33 762.62V765.82M292.72 892.47V889.27M292.72 762.62V765.82M320.11 892.47V889.27M320.11 762.62V765.82M59.95 863.61H63.15M333.85 863.61H330.65M59.95 834.76H63.15M333.85 834.76H330.65M59.95 805.90H63.15M333.85 805.90H330.65M59.95 777.05H63.15M333.85 777.05H330.65" stroke="#2b2b2b" stroke-width="1.3" fill="none"/>
<rect x="59.95" y="762.62" width="273.90" height="129.85" stroke="#2b2b2b" stroke-width="1.5" fill="none"/>
<text transform="translate(52.80 897.47) scale(1 1.09)" font-size="14" text-anchor="end" stroke="#222" stroke-width="0.3" fill="#222">20</text>
<text transform="translate(52.80 868.61) scale(1 1.09)" font-size="14" text-anchor="end" stroke="#222" stroke-width="0.3" fill="#222">40</text>
<text transform="translate(52.80 839.76) scale(1 1.09)" font-size="14" text-anchor="end" stroke="#222" stroke-width="0.3" fill="#222">60</text>
<text transform="translate(52.80 810.90) scale(1 1.09)" font-size="14" text-anchor="end" stroke="#222" stroke-width="0.3" fill="#222">80</text>
<text transform="translate(52.80 782.05) scale(1 1.09)" font-size="14" text-anchor="end" stroke="#222" stroke-width="0.3" fill="#222">100</text>
<text transform="translate(73.60 911.67) scale(1 1.09)" font-size="14" text-anchor="middle" stroke="#222" stroke-width="0.3" fill="#222">0</text>
<text transform="translate(100.99 911.67) scale(1 1.09)" font-size="14" text-anchor="middle" stroke="#222" stroke-width="0.3" fill="#222">1</text>
<text transform="translate(128.38 911.67) scale(1 1.09)" font-size="14" text-anchor="middle" stroke="#222" stroke-width="0.3" fill="#222">2</text>
<text transform="translate(155.77 911.67) scale(1 1.09)" font-size="14" text-anchor="middle" stroke="#222" stroke-width="0.3" fill="#222">3</text>
<text transform="translate(183.16 911.67) scale(1 1.09)" font-size="14" text-anchor="middle" stroke="#222" stroke-width="0.3" fill="#222">4</text>
<text transform="translate(210.55 911.67) scale(1 1.09)" font-size="14" text-anchor="middle" stroke="#222" stroke-width="0.3" fill="#222">5</text>
<text transform="translate(237.94 911.67) scale(1 1.09)" font-size="14" text-anchor="middle" stroke="#222" stroke-width="0.3" fill="#222">6</text>
<text transform="translate(265.33 911.67) scale(1 1.09)" font-size="14" text-anchor="middle" stroke="#222" stroke-width="0.3" fill="#222">7</text>
<text transform="translate(292.72 911.67) scale(1 1.09)" font-size="14" text-anchor="middle" stroke="#222" stroke-width="0.3" fill="#222">8</text>
<text transform="translate(320.11 911.67) scale(1 1.09)" font-size="14" text-anchor="middle" stroke="#222" stroke-width="0.3" fill="#222">9</text>
<text transform="translate(196.90 933.27) scale(1 1.05)" font-size="16.6" text-anchor="middle" stroke="#222" stroke-width="0.3" fill="#222">Update number</text>
<text transform="translate(20.95 827.55) rotate(-90)" font-size="16.8" text-anchor="middle" fill="#222" stroke="#222" stroke-width="0.3">Accuracy (%)</text>
<text transform="translate(0.75 761.52) scale(1 1.08)" font-size="17.2" font-weight="bold" stroke="#000" stroke-width="0.45" fill="#000">i</text>
<polyline points="73.60,836.92 100.99,836.49 128.38,828.41 155.77,816.44 183.16,821.63 210.55,819.03 237.94,817.88 265.33,816.44 292.72,815.28 320.11,816.87" stroke="#4660a8" stroke-width="1.8" fill="none" stroke-linejoin="round"/>
<ellipse cx="73.60" cy="836.92" rx="3.55" ry="3.75" fill="#4f69b6" stroke="#475d9f" stroke-width="0.7"/>
<ellipse cx="100.99" cy="836.49" rx="3.55" ry="3.75" fill="#4f69b6" stroke="#475d9f" stroke-width="0.7"/>
<ellipse cx="128.38" cy="828.41" rx="3.55" ry="3.75" fill="#4f69b6" stroke="#475d9f" stroke-width="0.7"/>
<ellipse cx="155.77" cy="816.44" rx="3.55" ry="3.75" fill="#4f69b6" stroke="#475d9f" stroke-width="0.7"/>
<ellipse cx="183.16" cy="821.63" rx="3.55" ry="3.75" fill="#4f69b6" stroke="#475d9f" stroke-width="0.7"/>
<ellipse cx="210.55" cy="819.03" rx="3.55" ry="3.75" fill="#4f69b6" stroke="#475d9f" stroke-width="0.7"/>
<ellipse cx="237.94" cy="817.88" rx="3.55" ry="3.75" fill="#4f69b6" stroke="#475d9f" stroke-width="0.7"/>
<ellipse cx="265.33" cy="816.44" rx="3.55" ry="3.75" fill="#4f69b6" stroke="#475d9f" stroke-width="0.7"/>
<ellipse cx="292.72" cy="815.28" rx="3.55" ry="3.75" fill="#4f69b6" stroke="#475d9f" stroke-width="0.7"/>
<ellipse cx="320.11" cy="816.87" rx="3.55" ry="3.75" fill="#4f69b6" stroke="#475d9f" stroke-width="0.7"/>
<polyline points="73.60,836.92 100.99,841.97 128.38,851.35 155.77,846.73 183.16,855.10 210.55,853.95 237.94,841.97 265.33,848.90 292.72,853.95 320.11,850.05" stroke="#941b46" stroke-width="1.8" fill="none" stroke-linejoin="round"/>
<ellipse cx="73.60" cy="836.92" rx="3.55" ry="3.75" fill="#aa1a4a" stroke="#8e2046" stroke-width="0.7"/>
<ellipse cx="100.99" cy="841.97" rx="3.55" ry="3.75" fill="#aa1a4a" stroke="#8e2046" stroke-width="0.7"/>
<ellipse cx="128.38" cy="851.35" rx="3.55" ry="3.75" fill="#aa1a4a" stroke="#8e2046" stroke-width="0.7"/>
<ellipse cx="155.77" cy="846.73" rx="3.55" ry="3.75" fill="#aa1a4a" stroke="#8e2046" stroke-width="0.7"/>
<ellipse cx="183.16" cy="855.10" rx="3.55" ry="3.75" fill="#aa1a4a" stroke="#8e2046" stroke-width="0.7"/>
<ellipse cx="210.55" cy="853.95" rx="3.55" ry="3.75" fill="#aa1a4a" stroke="#8e2046" stroke-width="0.7"/>
<ellipse cx="237.94" cy="841.97" rx="3.55" ry="3.75" fill="#aa1a4a" stroke="#8e2046" stroke-width="0.7"/>
<ellipse cx="265.33" cy="848.90" rx="3.55" ry="3.75" fill="#aa1a4a" stroke="#8e2046" stroke-width="0.7"/>
<ellipse cx="292.72" cy="853.95" rx="3.55" ry="3.75" fill="#aa1a4a" stroke="#8e2046" stroke-width="0.7"/>
<ellipse cx="320.11" cy="850.05" rx="3.55" ry="3.75" fill="#aa1a4a" stroke="#8e2046" stroke-width="0.7"/>
<path d="M73.05 778.75H110.95" stroke="#4660a8" stroke-width="1.8"/>
<ellipse cx="92.05" cy="778.75" rx="3.45" ry="3.65" fill="#4f69b6" stroke="#475d9f" stroke-width="0.7"/>
<text transform="translate(114.05 782.75) scale(1 1.0)" font-size="12.7" stroke="#222" stroke-width="0.3" fill="#222">w/&#160;&#160;co-evolution</text>
<path d="M73.05 794.70H110.95" stroke="#941b46" stroke-width="1.8"/>
<ellipse cx="92.05" cy="794.70" rx="3.45" ry="3.65" fill="#aa1a4a" stroke="#8e2046" stroke-width="0.7"/>
<text transform="translate(114.05 798.70) scale(1 1.0)" font-size="12.7" stroke="#222" stroke-width="0.3" fill="#222">w/o co-evolution</text>
<path d="M423.65 892.47V889.27M423.65 762.62V765.82M451.04 892.47V889.27M451.04 762.62V765.82M478.43 892.47V889.27M478.43 762.62V765.82M505.82 892.47V889.27M505.82 762.62V765.82M533.21 892.47V889.27M533.21 762.62V765.82M560.60 892.47V889.27M560.60 762.62V765.82M587.99 892.47V889.27M587.99 762.62V765.82M615.38 892.47V889.27M615.38 762.62V765.82M642.77 892.47V889.27M642.77 762.62V765.82M670.16 892.47V889.27M670.16 762.62V765.82M410.00 863.61H413.20M683.90 863.61H680.70M410.00 834.76H413.20M683.90 834.76H680.70M410.00 805.90H413.20M683.90 805.90H680.70M410.00 777.05H413.20M683.90 777.05H680.70" stroke="#2b2b2b" stroke-width="1.3" fill="none"/>
<rect x="410.00" y="762.62" width="273.90" height="129.85" stroke="#2b2b2b" stroke-width="1.5" fill="none"/>
<text transform="translate(402.85 897.47) scale(1 1.09)" font-size="14" text-anchor="end" stroke="#222" stroke-width="0.3" fill="#222">20</text>
<text transform="translate(402.85 868.61) scale(1 1.09)" font-size="14" text-anchor="end" stroke="#222" stroke-width="0.3" fill="#222">40</text>
<text transform="translate(402.85 839.76) scale(1 1.09)" font-size="14" text-anchor="end" stroke="#222" stroke-width="0.3" fill="#222">60</text>
<text transform="translate(402.85 810.90) scale(1 1.09)" font-size="14" text-anchor="end" stroke="#222" stroke-width="0.3" fill="#222">80</text>
<text transform="translate(402.85 782.05) scale(1 1.09)" font-size="14" text-anchor="end" stroke="#222" stroke-width="0.3" fill="#222">100</text>
<text transform="translate(423.65 911.67) scale(1 1.09)" font-size="14" text-anchor="middle" stroke="#222" stroke-width="0.3" fill="#222">0</text>
<text transform="translate(451.04 911.67) scale(1 1.09)" font-size="14" text-anchor="middle" stroke="#222" stroke-width="0.3" fill="#222">1</text>
<text transform="translate(478.43 911.67) scale(1 1.09)" font-size="14" text-anchor="middle" stroke="#222" stroke-width="0.3" fill="#222">2</text>
<text transform="translate(505.82 911.67) scale(1 1.09)" font-size="14" text-anchor="middle" stroke="#222" stroke-width="0.3" fill="#222">3</text>
<text transform="translate(533.21 911.67) scale(1 1.09)" font-size="14" text-anchor="middle" stroke="#222" stroke-width="0.3" fill="#222">4</text>
<text transform="translate(560.60 911.67) scale(1 1.09)" font-size="14" text-anchor="middle" stroke="#222" stroke-width="0.3" fill="#222">5</text>
<text transform="translate(587.99 911.67) scale(1 1.09)" font-size="14" text-anchor="middle" stroke="#222" stroke-width="0.3" fill="#222">6</text>
<text transform="translate(615.38 911.67) scale(1 1.09)" font-size="14" text-anchor="middle" stroke="#222" stroke-width="0.3" fill="#222">7</text>
<text transform="translate(642.77 911.67) scale(1 1.09)" font-size="14" text-anchor="middle" stroke="#222" stroke-width="0.3" fill="#222">8</text>
<text transform="translate(670.16 911.67) scale(1 1.09)" font-size="14" text-anchor="middle" stroke="#222" stroke-width="0.3" fill="#222">9</text>
<text transform="translate(546.95 933.27) scale(1 1.05)" font-size="16.6" text-anchor="middle" stroke="#222" stroke-width="0.3" fill="#222">Update number</text>
<text transform="translate(371.00 827.55) rotate(-90)" font-size="16.8" text-anchor="middle" fill="#222" stroke="#222" stroke-width="0.3">Accuracy (%)</text>
<text transform="translate(350.80 761.52) scale(1 1.08)" font-size="17.2" font-weight="bold" stroke="#000" stroke-width="0.45" fill="#000">j</text>
<polyline points="423.65,830.00 451.04,820.04 478.43,808.07 505.82,814.13 533.21,814.13 560.60,808.07 587.99,804.75 615.38,799.84 642.77,797.54 670.16,797.54" stroke="#4660a8" stroke-width="1.8" fill="none" stroke-linejoin="round"/>
<ellipse cx="423.65" cy="830.00" rx="3.55" ry="3.75" fill="#4f69b6" stroke="#475d9f" stroke-width="0.7"/>
<ellipse cx="451.04" cy="820.04" rx="3.55" ry="3.75" fill="#4f69b6" stroke="#475d9f" stroke-width="0.7"/>
<ellipse cx="478.43" cy="808.07" rx="3.55" ry="3.75" fill="#4f69b6" stroke="#475d9f" stroke-width="0.7"/>
<ellipse cx="505.82" cy="814.13" rx="3.55" ry="3.75" fill="#4f69b6" stroke="#475d9f" stroke-width="0.7"/>
<ellipse cx="533.21" cy="814.13" rx="3.55" ry="3.75" fill="#4f69b6" stroke="#475d9f" stroke-width="0.7"/>
<ellipse cx="560.60" cy="808.07" rx="3.55" ry="3.75" fill="#4f69b6" stroke="#475d9f" stroke-width="0.7"/>
<ellipse cx="587.99" cy="804.75" rx="3.55" ry="3.75" fill="#4f69b6" stroke="#475d9f" stroke-width="0.7"/>
<ellipse cx="615.38" cy="799.84" rx="3.55" ry="3.75" fill="#4f69b6" stroke="#475d9f" stroke-width="0.7"/>
<ellipse cx="642.77" cy="797.54" rx="3.55" ry="3.75" fill="#4f69b6" stroke="#475d9f" stroke-width="0.7"/>
<ellipse cx="670.16" cy="797.54" rx="3.55" ry="3.75" fill="#4f69b6" stroke="#475d9f" stroke-width="0.7"/>
<polyline points="423.65,830.00 451.04,831.01 478.43,822.93 505.82,846.73 533.21,841.97 560.60,845.29 587.99,844.14 615.38,839.09 642.77,841.97 670.16,846.73" stroke="#941b46" stroke-width="1.8" fill="none" stroke-linejoin="round"/>
<ellipse cx="423.65" cy="830.00" rx="3.55" ry="3.75" fill="#aa1a4a" stroke="#8e2046" stroke-width="0.7"/>
<ellipse cx="451.04" cy="831.01" rx="3.55" ry="3.75" fill="#aa1a4a" stroke="#8e2046" stroke-width="0.7"/>
<ellipse cx="478.43" cy="822.93" rx="3.55" ry="3.75" fill="#aa1a4a" stroke="#8e2046" stroke-width="0.7"/>
<ellipse cx="505.82" cy="846.73" rx="3.55" ry="3.75" fill="#aa1a4a" stroke="#8e2046" stroke-width="0.7"/>
<ellipse cx="533.21" cy="841.97" rx="3.55" ry="3.75" fill="#aa1a4a" stroke="#8e2046" stroke-width="0.7"/>
<ellipse cx="560.60" cy="845.29" rx="3.55" ry="3.75" fill="#aa1a4a" stroke="#8e2046" stroke-width="0.7"/>
<ellipse cx="587.99" cy="844.14" rx="3.55" ry="3.75" fill="#aa1a4a" stroke="#8e2046" stroke-width="0.7"/>
<ellipse cx="615.38" cy="839.09" rx="3.55" ry="3.75" fill="#aa1a4a" stroke="#8e2046" stroke-width="0.7"/>
<ellipse cx="642.77" cy="841.97" rx="3.55" ry="3.75" fill="#aa1a4a" stroke="#8e2046" stroke-width="0.7"/>
<ellipse cx="670.16" cy="846.73" rx="3.55" ry="3.75" fill="#aa1a4a" stroke="#8e2046" stroke-width="0.7"/>
<path d="M423.10 778.75H461.00" stroke="#4660a8" stroke-width="1.8"/>
<ellipse cx="442.10" cy="778.75" rx="3.45" ry="3.65" fill="#4f69b6" stroke="#475d9f" stroke-width="0.7"/>
<text transform="translate(464.10 782.75) scale(1 1.0)" font-size="12.7" stroke="#222" stroke-width="0.3" fill="#222">w/&#160;&#160;co-evolution</text>
<path d="M423.10 794.70H461.00" stroke="#941b46" stroke-width="1.8"/>
<ellipse cx="442.10" cy="794.70" rx="3.45" ry="3.65" fill="#aa1a4a" stroke="#8e2046" stroke-width="0.7"/>
<text transform="translate(464.10 798.70) scale(1 1.0)" font-size="12.7" stroke="#222" stroke-width="0.3" fill="#222">w/o co-evolution</text>
</svg>
</body></html>
